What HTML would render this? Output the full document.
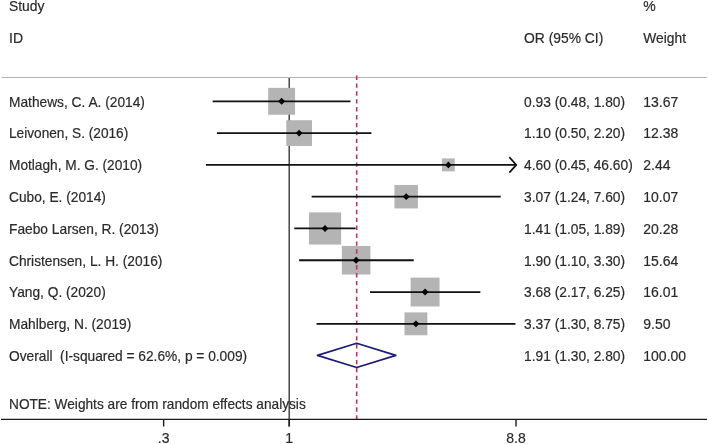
<!DOCTYPE html>
<html><head><meta charset="utf-8"><style>
html,body{margin:0;padding:0;background:#fff;}
body{width:708px;height:444px;overflow:hidden;}
svg{display:block;will-change:transform;}
text{font-family:"Liberation Sans", sans-serif;font-size:14.5px;fill:#2a2a2a;stroke:#2a2a2a;stroke-width:0.2px;}
</style></head><body>
<svg width="708" height="444" viewBox="0 0 708 444">
<line x1="1.5" y1="77.5" x2="707" y2="77.5" stroke="#b4b4b4" stroke-width="1.2"/>
<line x1="289.2" y1="78" x2="289.2" y2="426.5" stroke="#383838" stroke-width="1.4"/>
<rect x="268.18" y="87.85" width="26.90" height="26.90" fill="#b4b4b4"/>
<rect x="286.28" y="120.22" width="25.73" height="25.73" fill="#b4b4b4"/>
<rect x="441.92" y="158.43" width="12.90" height="12.90" fill="#b4b4b4"/>
<rect x="394.46" y="184.94" width="23.47" height="23.47" fill="#b4b4b4"/>
<rect x="308.94" y="212.36" width="32.19" height="32.19" fill="#b4b4b4"/>
<rect x="341.85" y="245.95" width="28.59" height="28.59" fill="#b4b4b4"/>
<rect x="410.64" y="277.59" width="28.90" height="28.90" fill="#b4b4b4"/>
<rect x="404.48" y="312.40" width="22.87" height="22.87" fill="#b4b4b4"/>
<line x1="356.69" y1="75.5" x2="356.69" y2="419" stroke="#b03c55" stroke-width="1.6" stroke-dasharray="4.4 3.5"/>
<line x1="212.65" y1="101.30" x2="350.51" y2="101.30" stroke="#111" stroke-width="1.8"/>
<polygon points="278.18,101.30 281.63,97.85 285.08,101.30 281.63,104.75" fill="#000"/>
<line x1="216.90" y1="133.09" x2="371.44" y2="133.09" stroke="#111" stroke-width="1.8"/>
<polygon points="295.69,133.09 299.14,129.64 302.59,133.09 299.14,136.54" fill="#000"/>
<line x1="205.92" y1="164.88" x2="516.00" y2="164.88" stroke="#111" stroke-width="1.8"/>
<polyline points="509.3,157.08 516.3,164.88 509.3,172.68" fill="none" stroke="#111" stroke-width="1.7"/>
<polygon points="444.92,164.88 448.37,161.43 451.82,164.88 448.37,168.33" fill="#000"/>
<line x1="311.64" y1="196.67" x2="500.74" y2="196.67" stroke="#111" stroke-width="1.8"/>
<polygon points="402.74,196.67 406.19,193.22 409.64,196.67 406.19,200.12" fill="#000"/>
<line x1="294.29" y1="228.46" x2="355.59" y2="228.46" stroke="#111" stroke-width="1.8"/>
<polygon points="321.59,228.46 325.04,225.01 328.49,228.46 325.04,231.91" fill="#000"/>
<line x1="299.14" y1="260.25" x2="413.73" y2="260.25" stroke="#111" stroke-width="1.8"/>
<polygon points="352.70,260.25 356.15,256.80 359.60,260.25 356.15,263.70" fill="#000"/>
<line x1="370.00" y1="292.04" x2="480.34" y2="292.04" stroke="#111" stroke-width="1.8"/>
<polygon points="421.64,292.04 425.09,288.59 428.54,292.04 425.09,295.49" fill="#000"/>
<line x1="316.56" y1="323.83" x2="515.43" y2="323.83" stroke="#111" stroke-width="1.8"/>
<polygon points="412.47,323.83 415.92,320.38 419.37,323.83 415.92,327.28" fill="#000"/>
<polygon points="317.46,355.37 356.69,343.27 395.89,355.37 356.69,367.47" fill="none" stroke="#1c1c78" stroke-width="1.7" stroke-linejoin="round"/>
<line x1="1" y1="419.4" x2="707" y2="419.4" stroke="#1a1a1a" stroke-width="1.4"/>
<line x1="163.63" y1="419" x2="163.63" y2="426.5" stroke="#1a1a1a" stroke-width="1.4"/>
<line x1="289.20" y1="419" x2="289.20" y2="426.5" stroke="#1a1a1a" stroke-width="1.4"/>
<line x1="516.03" y1="419" x2="516.03" y2="426.5" stroke="#1a1a1a" stroke-width="1.4"/>
<text x="9.00" y="10.50" textLength="35.45" lengthAdjust="spacingAndGlyphs">Study</text>
<text x="643.30" y="10.60" textLength="12.45" lengthAdjust="spacingAndGlyphs">%</text>
<text x="9.00" y="42.50" textLength="14.00" lengthAdjust="spacingAndGlyphs">ID</text>
<text x="524.00" y="42.50" textLength="79.32" lengthAdjust="spacingAndGlyphs">OR (95% CI)</text>
<text x="643.30" y="42.50" textLength="42.68" lengthAdjust="spacingAndGlyphs">Weight</text>
<text x="9.00" y="106.60" textLength="135.88" lengthAdjust="spacingAndGlyphs">Mathews, C. A. (2014)</text>
<text x="524.00" y="106.60" textLength="101.11" lengthAdjust="spacingAndGlyphs">0.93 (0.48, 1.80)</text>
<text x="643.30" y="106.60" textLength="35.05" lengthAdjust="spacingAndGlyphs">13.67</text>
<text x="9.00" y="138.39" textLength="119.25" lengthAdjust="spacingAndGlyphs">Leivonen, S. (2016)</text>
<text x="524.00" y="138.39" textLength="101.11" lengthAdjust="spacingAndGlyphs">1.10 (0.50, 2.20)</text>
<text x="643.30" y="138.39" textLength="35.05" lengthAdjust="spacingAndGlyphs">12.38</text>
<text x="9.00" y="170.18" textLength="133.12" lengthAdjust="spacingAndGlyphs">Motlagh, M. G. (2010)</text>
<text x="524.00" y="170.18" textLength="108.76" lengthAdjust="spacingAndGlyphs">4.60 (0.45, 46.60)</text>
<text x="643.30" y="170.18" textLength="27.25" lengthAdjust="spacingAndGlyphs">2.44</text>
<text x="9.00" y="201.97" textLength="96.91" lengthAdjust="spacingAndGlyphs">Cubo, E. (2014)</text>
<text x="524.00" y="201.97" textLength="101.11" lengthAdjust="spacingAndGlyphs">3.07 (1.24, 7.60)</text>
<text x="643.30" y="201.97" textLength="35.05" lengthAdjust="spacingAndGlyphs">10.07</text>
<text x="9.00" y="233.76" textLength="149.89" lengthAdjust="spacingAndGlyphs">Faebo Larsen, R. (2013)</text>
<text x="524.00" y="233.76" textLength="101.11" lengthAdjust="spacingAndGlyphs">1.41 (1.05, 1.89)</text>
<text x="643.30" y="233.76" textLength="35.05" lengthAdjust="spacingAndGlyphs">20.28</text>
<text x="9.00" y="265.55" textLength="153.37" lengthAdjust="spacingAndGlyphs">Christensen, L. H. (2016)</text>
<text x="524.00" y="265.55" textLength="101.11" lengthAdjust="spacingAndGlyphs">1.90 (1.10, 3.30)</text>
<text x="643.30" y="265.55" textLength="35.05" lengthAdjust="spacingAndGlyphs">15.64</text>
<text x="9.00" y="297.34" textLength="96.74" lengthAdjust="spacingAndGlyphs">Yang, Q. (2020)</text>
<text x="524.00" y="297.34" textLength="101.11" lengthAdjust="spacingAndGlyphs">3.68 (2.17, 6.25)</text>
<text x="643.30" y="297.34" textLength="35.05" lengthAdjust="spacingAndGlyphs">16.01</text>
<text x="9.00" y="329.13" textLength="122.29" lengthAdjust="spacingAndGlyphs">Mahlberg, N. (2019)</text>
<text x="524.00" y="329.13" textLength="101.11" lengthAdjust="spacingAndGlyphs">3.37 (1.30, 8.75)</text>
<text x="643.30" y="329.13" textLength="27.25" lengthAdjust="spacingAndGlyphs">9.50</text>
<text x="9.00" y="360.92" textLength="238.10" lengthAdjust="spacingAndGlyphs">Overall&#160; (I-squared = 62.6%, p = 0.009)</text>
<text x="524.00" y="360.92" textLength="101.11" lengthAdjust="spacingAndGlyphs">1.91 (1.30, 2.80)</text>
<text x="643.30" y="360.92" textLength="42.83" lengthAdjust="spacingAndGlyphs">100.00</text>
<text x="9.00" y="408.60" textLength="296.73" lengthAdjust="spacingAndGlyphs">NOTE: Weights are from random effects analysis</text>
<text x="163.63" y="442.80" text-anchor="middle" textLength="11.69" lengthAdjust="spacingAndGlyphs">.3</text>
<text x="289.20" y="442.80" text-anchor="middle" textLength="7.80" lengthAdjust="spacingAndGlyphs">1</text>
<text x="516.03" y="442.80" text-anchor="middle" textLength="19.47" lengthAdjust="spacingAndGlyphs">8.8</text>
</svg>
</body></html>
